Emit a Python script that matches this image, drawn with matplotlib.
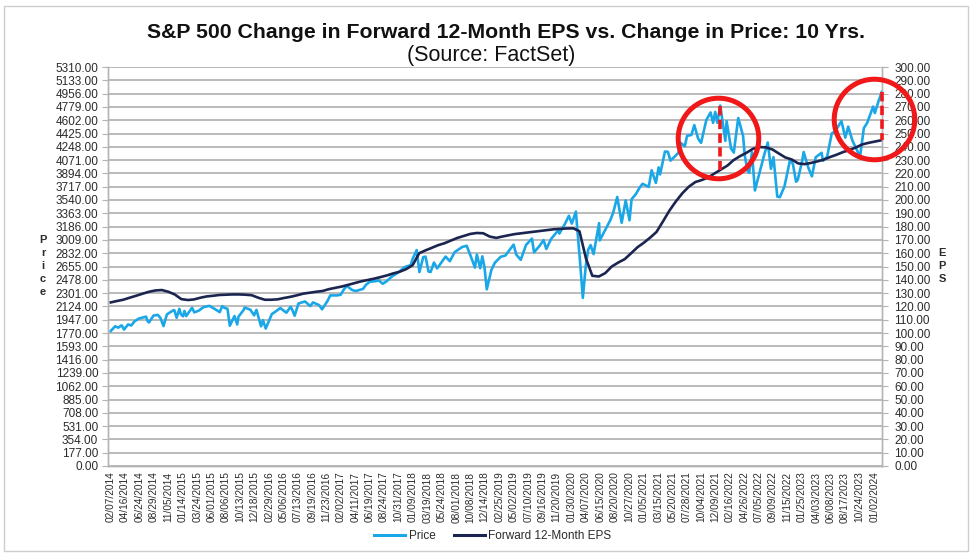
import numpy as np
import pandas as pd
import matplotlib
matplotlib.use("Agg")
import matplotlib.pyplot as plt
import matplotlib.dates as mdates
from matplotlib.patches import Rectangle

plt.rcParams['font.family'] = ['Liberation Sans', 'DejaVu Sans']

# colours
PRICE_BLUE = '#1AA7E8'
EPS_NAVY = '#1B2550'
GRID_GREY = '#B4B4B4'
TEXT_COL = '#2B2B2B'
RED = '#F01818'

###########################################################################
# Data
###########################################################################
tick_labels = [
    '02/07/2014', '04/16/2014', '06/24/2014', '08/29/2014', '11/05/2014',
    '01/14/2015', '03/24/2015', '06/01/2015', '08/06/2015', '10/13/2015', '12/18/2015',
    '02/29/2016', '05/06/2016', '07/13/2016', '09/19/2016', '11/23/2016',
    '02/02/2017', '04/11/2017', '06/19/2017', '08/24/2017', '10/31/2017',
    '01/09/2018', '03/19/2018', '05/24/2018', '08/01/2018', '10/08/2018', '12/14/2018',
    '02/25/2019', '05/02/2019', '07/10/2019', '09/16/2019', '11/20/2019',
    '01/30/2020', '04/07/2020', '06/15/2020', '08/20/2020', '10/27/2020',
    '01/05/2021', '03/15/2021', '05/20/2021', '07/28/2021', '10/04/2021', '12/09/2021',
    '02/16/2022', '04/26/2022', '07/05/2022', '09/09/2022', '11/15/2022',
    '01/25/2023', '04/03/2023', '06/08/2023', '08/17/2023', '10/24/2023',
    '01/02/2024',
]

price_dates = [
    '2014-02-07', '2014-02-28', '2014-03-14', '2014-03-31', '2014-04-11', '2014-04-30',
    '2014-05-15', '2014-05-30', '2014-06-20', '2014-07-24', '2014-07-31', '2014-08-07',
    '2014-08-29', '2014-09-18', '2014-09-30', '2014-10-15', '2014-10-31', '2014-11-28',
    '2014-12-05', '2014-12-16', '2014-12-29', '2015-01-05', '2015-01-15', '2015-01-22',
    '2015-01-30', '2015-02-27', '2015-03-10', '2015-03-31', '2015-04-24', '2015-05-21',
    '2015-06-12', '2015-06-30', '2015-07-08', '2015-07-20', '2015-07-31', '2015-08-14',
    '2015-08-25', '2015-09-16', '2015-09-29', '2015-10-05', '2015-10-30', '2015-11-03',
    '2015-11-30', '2015-12-18', '2015-12-29', '2016-01-20', '2016-01-29', '2016-02-11',
    '2016-03-11', '2016-03-31', '2016-04-20', '2016-05-19', '2016-06-08', '2016-06-16',
    '2016-06-27', '2016-07-15', '2016-08-15', '2016-09-09', '2016-09-22', '2016-10-21',
    '2016-11-04', '2016-11-30', '2016-12-13', '2017-01-12', '2017-01-31', '2017-02-15',
    '2017-03-01', '2017-03-27', '2017-04-13', '2017-05-17', '2017-05-31', '2017-06-19',
    '2017-07-14', '2017-07-31', '2017-08-18', '2017-09-05', '2017-09-29', '2017-10-31',
    '2017-11-30', '2017-12-29', '2018-01-05', '2018-01-26', '2018-02-08', '2018-02-26',
    '2018-03-09', '2018-03-23', '2018-04-02', '2018-04-18', '2018-05-03', '2018-06-12',
    '2018-07-02', '2018-07-25', '2018-08-29', '2018-09-20', '2018-10-10', '2018-10-29',
    '2018-11-07', '2018-11-23', '2018-12-03', '2018-12-13', '2018-12-24', '2019-01-15',
    '2019-01-31', '2019-02-28', '2019-03-22', '2019-04-30', '2019-05-13', '2019-06-03',
    '2019-06-28', '2019-07-26', '2019-08-05', '2019-08-30', '2019-09-19', '2019-10-02',
    '2019-10-25', '2019-11-29', '2019-12-03', '2019-12-31', '2020-01-17', '2020-01-31',
    '2020-02-19', '2020-03-09', '2020-03-23', '2020-04-06', '2020-04-17', '2020-04-29',
    '2020-05-13', '2020-06-08', '2020-06-11', '2020-07-31', '2020-08-14', '2020-09-02',
    '2020-09-23', '2020-10-12', '2020-10-30', '2020-11-09', '2020-11-30', '2020-12-18',
    '2020-12-31', '2021-01-29', '2021-02-12', '2021-03-04', '2021-03-17', '2021-03-24',
    '2021-04-16', '2021-04-30', '2021-05-12', '2021-06-18', '2021-06-30', '2021-07-19',
    '2021-07-30', '2021-08-19', '2021-09-02', '2021-09-20', '2021-10-04', '2021-10-29',
    '2021-11-18', '2021-11-30', '2021-12-10', '2021-12-20', '2022-01-03', '2022-01-27',
    '2022-02-02', '2022-02-23', '2022-03-08', '2022-03-29', '2022-04-21', '2022-04-29',
    '2022-05-12', '2022-05-20', '2022-05-31', '2022-06-02', '2022-06-16', '2022-07-29',
    '2022-08-16', '2022-08-31', '2022-09-12', '2022-09-30', '2022-10-12', '2022-11-03',
    '2022-11-30', '2022-12-13', '2022-12-28', '2023-01-05', '2023-01-26', '2023-02-02',
    '2023-02-24', '2023-03-13', '2023-03-31', '2023-04-28', '2023-05-04', '2023-05-24',
    '2023-06-15', '2023-06-30', '2023-07-31', '2023-08-18', '2023-09-01', '2023-09-21',
    '2023-10-27', '2023-11-14', '2023-11-30', '2023-12-28', '2024-01-05', '2024-01-24',
    '2024-02-07',
]

price_values = [
    1797, 1859, 1841, 1872, 1816, 1884,
    1870, 1924, 1962, 1988, 1931, 1910,
    2003, 2011, 1972, 1862, 2018, 2068,
    2075, 1973, 2091, 2021, 1992, 2063,
    1995, 2105, 2044, 2068, 2117, 2131,
    2094, 2063, 2047, 2128, 2104, 2092,
    1867, 1996, 1884, 1987, 2079, 2109,
    2080, 2005, 2078, 1859, 1940, 1829,
    2022, 2060, 2102, 2040, 2119, 2077,
    2000, 2162, 2190, 2128, 2177, 2141,
    2085, 2199, 2271, 2270, 2279, 2349,
    2396, 2341, 2329, 2357, 2412, 2453,
    2459, 2470, 2425, 2457, 2519, 2575,
    2648, 2674, 2743, 2873, 2581, 2780,
    2786, 2588, 2582, 2708, 2630, 2787,
    2726, 2846, 2914, 2931, 2785, 2641,
    2814, 2633, 2790, 2650, 2351, 2610,
    2704, 2784, 2801, 2946, 2812, 2744,
    2942, 3026, 2844, 2926, 3006, 2888,
    3023, 3141, 3093, 3231, 3330, 3226,
    3386, 2747, 2237, 2664, 2875, 2940,
    2820, 3232, 3002, 3271, 3373, 3580,
    3237, 3535, 3270, 3550, 3622, 3709,
    3756, 3714, 3935, 3768, 3974, 3881,
    4185, 4181, 4063, 4166, 4298, 4258,
    4395, 4405, 4537, 4358, 4300, 4605,
    4705, 4567, 4712, 4568, 4797, 4327,
    4589, 4226, 4171, 4632, 4393, 4132,
    3930, 3901, 4132, 4176, 3667, 4130,
    4305, 3955, 4110, 3586, 3577, 3720,
    4080, 4019, 3783, 3808, 4060, 4179,
    3970, 3855, 4109, 4169, 4061, 4115,
    4426, 4450, 4589, 4370, 4516, 4330,
    4117, 4496, 4568, 4783, 4697, 4868,
    4980,
]

# forward 12-month EPS, one reading per month from Feb 2014 to Feb 2024
eps_values = [
    123, 124, 125, 126.5, 128, 129.5, 131, 132, 132.3, 131, 129,
    125.5, 124.8, 125.2, 126.5, 127.5, 128, 128.6, 128.8, 129, 129, 128.8, 128.4,
    126.5, 125, 125, 125.3, 126.3, 127.2, 128.3, 129.6, 130.3, 131, 131.6, 133,
    134, 135, 136.2, 137.5, 138.8, 139.8, 140.8, 142, 143.3, 144.8, 146.1, 148,
    151, 160, 162, 164, 166, 167.5, 169.5, 171.5, 173, 174.5, 175.2, 175,
    172.5, 171.5, 172.5, 173.5, 174.4, 175, 175.6, 176.2, 176.8, 177.4, 178, 178.3,
    178.6, 178.7, 176.5, 156, 143, 142.5, 145, 150, 153, 155.5, 160, 164.5,
    168, 172, 176, 184, 192, 199, 205, 210, 213.5, 215, 217, 220,
    223, 226, 230, 233, 235.5, 238.5, 239.8, 239.6, 238, 235, 232, 230.5,
    227.5, 227, 227.8, 229, 230.3, 232.3, 234, 236, 237.6, 239.5, 241.8, 243,
    244, 245,
]
eps_dates = pd.date_range('2014-02-01', periods=len(eps_values), freq='MS') + pd.Timedelta(days=6)

price_ticks = np.arange(0, 5310.1, 177)
eps_ticks = np.arange(0, 300.1, 10)

assert len(price_dates) == len(price_values)

###########################################################################
# Figure
###########################################################################
W, H = 975, 558
fig = plt.figure(figsize=(W / 100, H / 100), dpi=100)
fig.patches.append(Rectangle((4 / W, 1 - 551 / H), 964 / W, 545 / H, transform=fig.transFigure,
                             fill=False, edgecolor='#CDCDCD', lw=1.0))

ax = fig.add_axes([108 / W, 1 - 466 / H, (882 - 108) / W, (466 - 67) / H])
ax2 = ax.twinx()

pdates = pd.to_datetime(price_dates)
ax.plot(pdates, price_values, color=PRICE_BLUE, lw=1.9, solid_joinstyle='round')
ax2.plot(eps_dates, eps_values, color=EPS_NAVY, lw=1.9)

ax.set_ylim(0, 5310)
ax2.set_ylim(0, 300)
ax.set_xlim(pd.Timestamp('2014-01-25'), pd.Timestamp('2024-02-08'))

ax.set_yticks(price_ticks)
ax.set_yticklabels(['%.2f' % v for v in price_ticks])
ax2.set_yticks(eps_ticks)
ax2.set_yticklabels(['%.2f' % v for v in eps_ticks])
ax.set_xticks(pd.to_datetime(tick_labels, format='%m/%d/%Y'))
ax.set_xticklabels(tick_labels, rotation=90)

ax.yaxis.grid(True, color=GRID_GREY, lw=1.3)
ax.set_axisbelow(True)
for a in (ax, ax2):
    for s in a.spines.values():
        s.set_color(GRID_GREY)
        s.set_linewidth(1.0)
    a.spines['top'].set_visible(False)
ax.tick_params(axis='y', length=4, color=GRID_GREY, labelsize=8.5, labelcolor=TEXT_COL, pad=3)
ax2.tick_params(axis='y', length=4, color=GRID_GREY, labelsize=8.5, labelcolor=TEXT_COL, pad=5)
ax.tick_params(axis='x', length=0, labelsize=7.3, labelcolor=TEXT_COL, pad=4)

# stacked axis titles
fig.text(43 / W, 1 - 266 / H, 'P\nr\ni\nc\ne', ha='center', va='center', fontsize=8,
         fontweight='bold', color=TEXT_COL, linespacing=1.35)
fig.text(942 / W, 1 - 266 / H, 'E\nP\nS', ha='center', va='center', fontsize=8,
         fontweight='bold', color=TEXT_COL, linespacing=1.35)

fig.text(506 / W, 1 - 32 / H, 'S&P 500 Change in Forward 12-Month EPS vs. Change in Price: 10 Yrs.',
         ha='center', va='center', fontsize=15.3, fontweight='bold', color='#111111')
fig.text(491 / W, 1 - 55 / H, '(Source: FactSet)', ha='center', va='center', fontsize=15.5,
         color='#111111')

# red highlights: dashed gap between price and EPS, and circles
ratio = 5310 / 300
eps_num = mdates.date2num(eps_dates)
pnum = mdates.date2num(pdates)
pv = np.array(price_values, dtype=float)
peak_i = int(np.argmax(np.where(pdates < pd.Timestamp('2022-06-01'), pv, 0)))
for i in (peak_i, len(pv) - 1):
    eps_at = np.interp(pnum[i], eps_num, eps_values)
    ax2.plot([pdates[i], pdates[i]], [pv[i] / ratio, eps_at], color=RED, lw=2.6,
             linestyle=(0, (2.6, 1.2)), clip_on=False, zorder=5)

circle_centres = [('2021-12-22', 246.4), ('2024-01-01', 261.1)]
for d, v in circle_centres:
    ax2.plot([pd.Timestamp(d)], [v], marker='o', ms=58, mfc='none', mec=RED, mew=3.6,
             clip_on=False, zorder=6)

handles = [plt.Line2D([], [], color=PRICE_BLUE, lw=2.2),
           plt.Line2D([], [], color=EPS_NAVY, lw=2.2)]
fig.legend(handles, ['Price', 'Forward 12-Month EPS'], loc='center',
           bbox_to_anchor=(493 / W, 1 - 536 / H), ncol=2, frameon=False, fontsize=8.5,
           handlelength=2.6, handletextpad=0.3, columnspacing=1.6, labelcolor=TEXT_COL)

fig.savefig('out.png', dpi=100)
